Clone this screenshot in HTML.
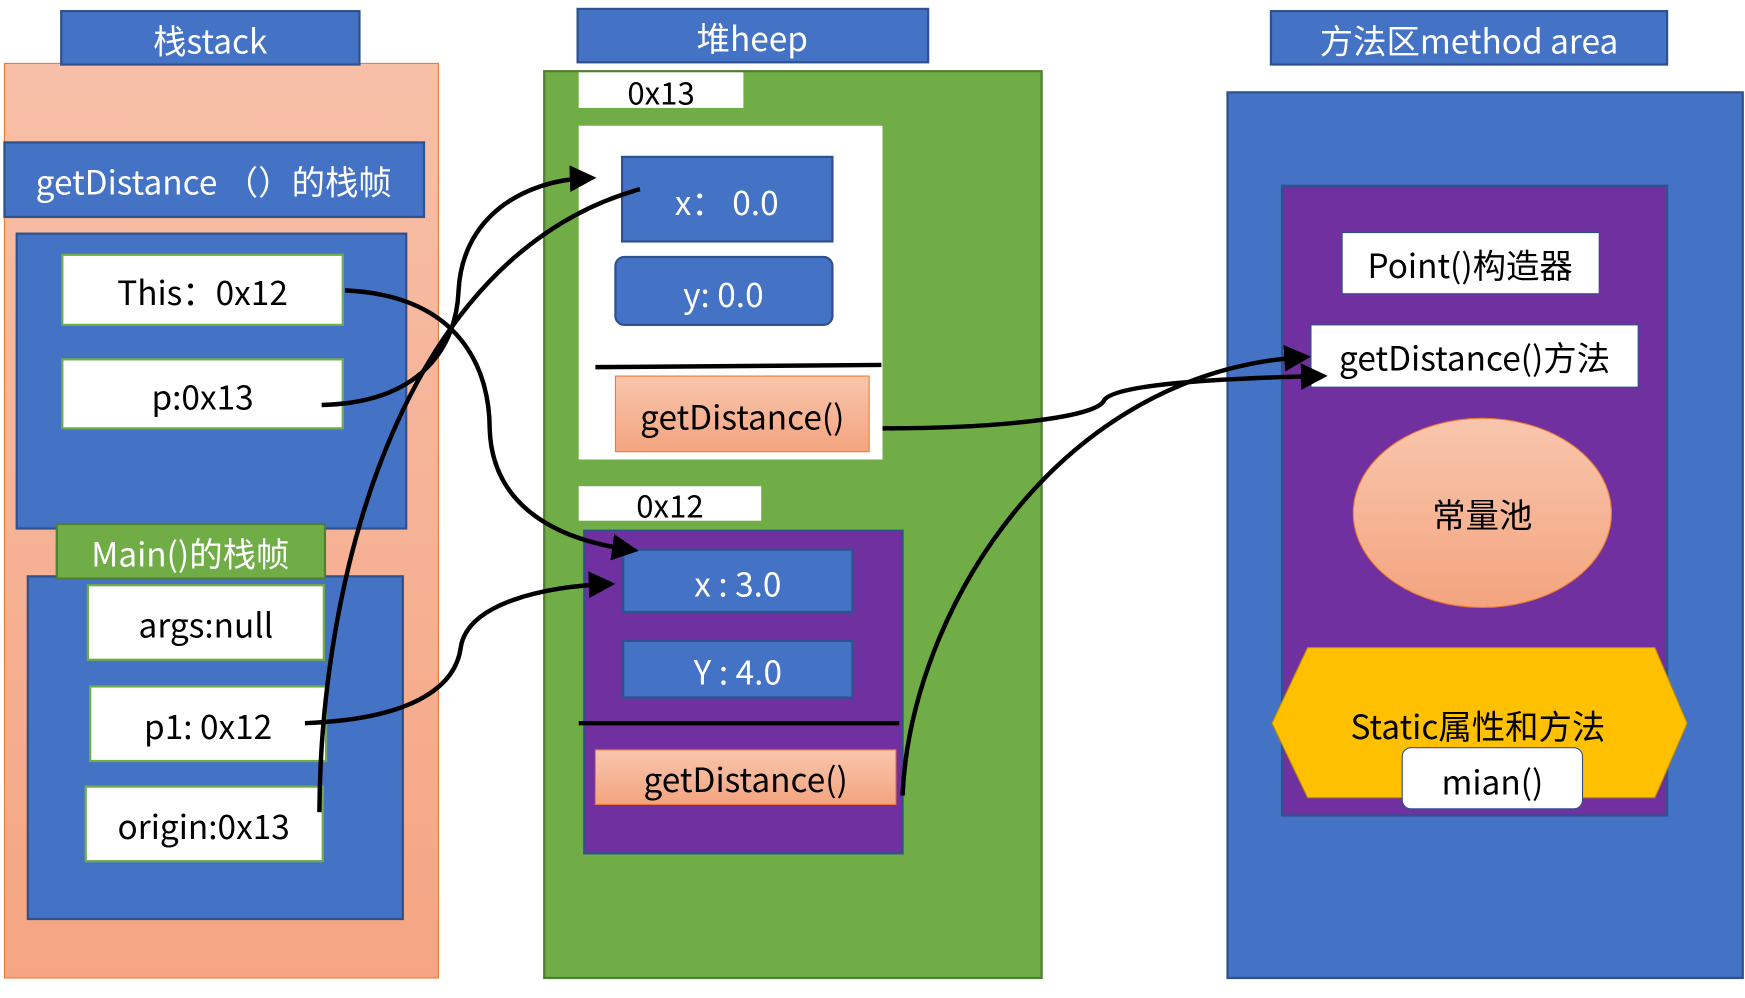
<!DOCTYPE html>
<html><head><meta charset="utf-8"><style>
html,body{margin:0;padding:0;background:#fff;width:1745px;height:998px;overflow:hidden}
text{font-family:"Noto Sans CJK SC","Liberation Sans",sans-serif}
</style></head><body>
<svg width="1745" height="998" viewBox="0 0 1568 897" preserveAspectRatio="none" xmlns="http://www.w3.org/2000/svg">
<defs>
<linearGradient id="sal" x1="0" y1="0" x2="0" y2="1"><stop offset="0" stop-color="#f7bfa8"/><stop offset="1" stop-color="#f5a583"/></linearGradient>
<linearGradient id="btn" x1="0" y1="0" x2="0" y2="1"><stop offset="0" stop-color="#f8c6ad"/><stop offset="1" stop-color="#f4a47f"/></linearGradient>
<marker id="ar" markerWidth="6" markerHeight="6" refX="4" refY="3" orient="auto" markerUnits="strokeWidth"><path d="M0,0 L6,3 L0,6 z" fill="#000"/></marker>
</defs>
<g font-size="30" text-anchor="middle" dominant-baseline="central">
<rect x="4" y="57" width="390" height="822" fill="url(#sal)" stroke="#ed7d31" stroke-width="1"/>
<rect x="55" y="10" width="268" height="48" fill="#4472c4" stroke="#2f528f" stroke-width="2"/>
<text x="189" y="35" fill="#fff">栈stack</text>
<rect x="4" y="128" width="377" height="67" fill="#4472c4" stroke="#2f528f" stroke-width="2"/>
<text x="192" y="162" fill="#fff">getDistance （）的栈帧</text>
<rect x="15" y="210" width="350" height="265" fill="#4472c4" stroke="#2f528f" stroke-width="2"/>
<rect x="56" y="229" width="252" height="63" fill="#fff" stroke="#70ad47" stroke-width="2"/>
<text x="182" y="261" fill="#000">This：0x12</text>
<rect x="56" y="323" width="252" height="62" fill="#fff" stroke="#70ad47" stroke-width="2"/>
<text x="182" y="355" fill="#000">p:0x13</text>
<rect x="25" y="518" width="337" height="308" fill="#4472c4" stroke="#2f528f" stroke-width="2"/>
<rect x="51" y="471" width="241" height="49" fill="#70ad47" stroke="#507e32" stroke-width="2"/>
<text x="171" y="496" fill="#fff">Main()的栈帧</text>
<rect x="79" y="526" width="212" height="67" fill="#fff" stroke="#70ad47" stroke-width="2"/>
<text x="185" y="560" fill="#000">args:null</text>
<rect x="81" y="617" width="212" height="67" fill="#fff" stroke="#70ad47" stroke-width="2"/>
<text x="187" y="651" fill="#000">p1: 0x12</text>
<rect x="77" y="707" width="213" height="67" fill="#fff" stroke="#70ad47" stroke-width="2"/>
<text x="183" y="741" fill="#000">origin:0x13</text>
<rect x="519" y="8" width="315" height="48" fill="#4472c4" stroke="#2f528f" stroke-width="2"/>
<text x="676" y="33" fill="#fff">堆heep</text>
<rect x="489" y="64" width="447" height="815" fill="#70ad47" stroke="#507e32" stroke-width="2"/>
<rect x="520" y="65" width="148" height="32" fill="#fff"/>
<text x="594" y="82" fill="#000" font-size="28">0x13</text>
<rect x="520" y="113" width="273" height="300" fill="#fff"/>
<rect x="559" y="141" width="189" height="76" fill="#4472c4" stroke="#2f528f" stroke-width="2"/>
<text x="653" y="180" fill="#fff">x：  0.0</text>
<rect x="553" y="231" width="195" height="61" rx="8" fill="#4472c4" stroke="#2f528f" stroke-width="2"/>
<text x="650" y="263" fill="#fff">y: 0.0</text>
<line x1="535" y1="330" x2="792" y2="328" stroke="#000" stroke-width="4"/>
<rect x="553" y="338" width="228" height="68" fill="url(#btn)" stroke="#ed7d31" stroke-width="1"/>
<text x="667" y="373" fill="#000">getDistance()</text>
<rect x="520" y="437" width="164" height="31" fill="#fff"/>
<text x="602" y="453" fill="#000" font-size="28">0x12</text>
<rect x="525" y="477" width="286" height="290" fill="#7030a0" stroke="#2f528f" stroke-width="2"/>
<rect x="560" y="494" width="206" height="56" fill="#4472c4" stroke="#2f528f" stroke-width="2"/>
<text x="663" y="523" fill="#fff">x : 3.0</text>
<rect x="560" y="576" width="206" height="51" fill="#4472c4" stroke="#2f528f" stroke-width="2"/>
<text x="663" y="602" fill="#fff">Y : 4.0</text>
<line x1="520" y1="650" x2="808" y2="650" stroke="#000" stroke-width="4"/>
<rect x="535" y="674" width="270" height="49" fill="url(#btn)" stroke="#ed7d31" stroke-width="1"/>
<text x="670" y="699" fill="#000">getDistance()</text>
<rect x="1142" y="10" width="356" height="48" fill="#4472c4" stroke="#2f528f" stroke-width="2"/>
<text x="1320" y="35" fill="#fff">方法区method area</text>
<rect x="1103" y="83" width="463" height="796" fill="#4472c4" stroke="#2f528f" stroke-width="2"/>
<rect x="1152" y="167" width="346" height="566" fill="#7030a0" stroke="#2f528f" stroke-width="2"/>
<rect x="1206" y="209" width="231" height="55" fill="#fff" stroke="#2f528f" stroke-width="1"/>
<text x="1321" y="237" fill="#000">Point()构造器</text>
<rect x="1178" y="292" width="294" height="56" fill="#fff" stroke="#2f528f" stroke-width="1"/>
<text x="1325" y="320" fill="#000">getDistance()方法</text>
<ellipse cx="1332" cy="461" rx="116" ry="85" fill="url(#btn)" stroke="#ed7d31" stroke-width="1"/>
<text x="1332" y="461" fill="#000">常量池</text>
<polygon points="1143,650 1175,582 1487,582 1516,650 1487,717 1175,717" fill="#ffc000" stroke="#bc8c00" stroke-width="1"/>
<text x="1328" y="651" fill="#000">Static属性和方法</text>
<rect x="1260" y="672" width="162" height="55" rx="8" fill="#fff" stroke="#2f528f" stroke-width="1"/>
<text x="1341" y="701" fill="#000">mian()</text>
</g>
<g fill="none" stroke="#000" stroke-width="4">
<path d="M310,261 C420,266 440,340 440,385 C442,455 500,485 566,494" marker-end="url(#ar)"/>
<path d="M289,364 C380,362 410,310 412,262 C415,195 470,162 528,160" marker-end="url(#ar)"/>
<path d="M287,730 C288,520 360,230 575,170"/>
<path d="M274,650 C380,646 410,612 414,582 C420,542 490,527 545,525" marker-end="url(#ar)"/>
<path d="M793,385 C900,385 985,375 992,360 C1000,345 1100,340 1185,338" marker-end="url(#ar)"/>
<path d="M811,715 C818,550 950,335 1170,321" marker-end="url(#ar)"/>
</g>
</svg>
</body></html>
